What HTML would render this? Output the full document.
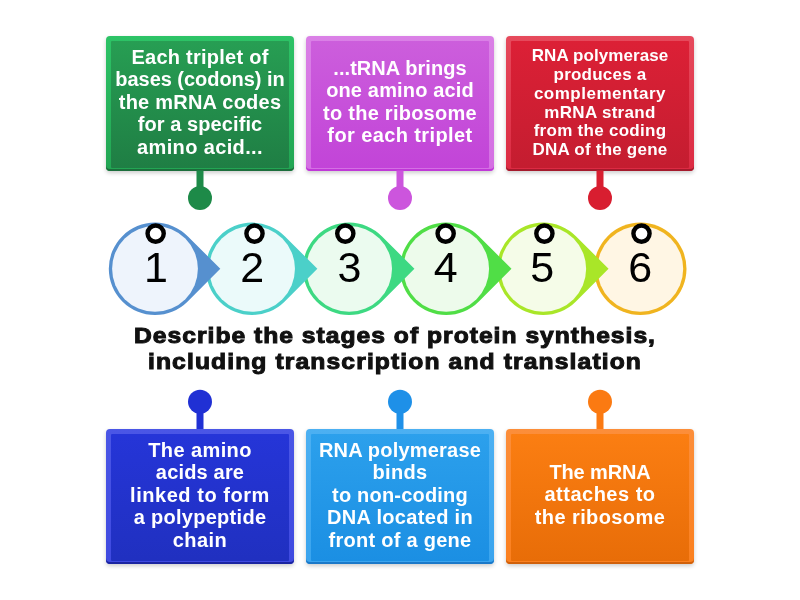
<!DOCTYPE html>
<html><head><meta charset="utf-8">
<style>
html,body{margin:0;padding:0;background:#fff;}
body{width:800px;height:600px;position:relative;overflow:hidden;font-family:"Liberation Sans",sans-serif;}
.box{position:absolute;width:188px;border-radius:4px;}
.box .in{position:absolute;left:5px;right:5px;top:5px;bottom:3px;border-radius:1px;}
.box .ln{will-change:transform;position:absolute;left:0;right:0;line-height:1;text-align:center;color:#fff;font-weight:bold;white-space:nowrap;}
svg{position:absolute;left:0;top:0;}
.title{will-change:transform;position:absolute;left:-5px;width:800px;text-align:center;font-weight:bold;color:#111;font-size:22px;letter-spacing:0.9px;-webkit-text-stroke:1px #111;transform:scaleX(1.12);line-height:1;}
</style></head><body>
<div class="box" style="left:106px;top:36px;height:134.5px;background:linear-gradient(#2dc366,#22a553);box-shadow:inset 0 -2px 0 #1c6e3c,0 2px 4px rgba(0,0,0,0.2);"><div class="in" style="background:linear-gradient(#279e53,#1f7e44);"></div><div class="ln" style="top:10.82px;font-size:20px;letter-spacing:0.250px;">Each triplet of</div><div class="ln" style="top:33.32px;font-size:20px;letter-spacing:-0.037px;">bases (codons) in</div><div class="ln" style="top:55.82px;font-size:20px;letter-spacing:0.231px;">the mRNA codes</div><div class="ln" style="top:78.32px;font-size:20px;letter-spacing:0.077px;">for a specific</div><div class="ln" style="top:100.82px;font-size:20px;letter-spacing:0.367px;">amino acid...</div></div>
<div class="box" style="left:306px;top:36px;height:134.5px;background:linear-gradient(#da80e6,#d46fe3);box-shadow:inset 0 -2px 0 #c038d8,0 2px 4px rgba(0,0,0,0.2);"><div class="in" style="background:linear-gradient(#cc5edc,#c244d8);"></div><div class="ln" style="top:21.57px;font-size:20px;letter-spacing:0.054px;">...tRNA brings</div><div class="ln" style="top:44.07px;font-size:20px;letter-spacing:0.154px;">one amino acid</div><div class="ln" style="top:66.57px;font-size:20px;letter-spacing:0.250px;">to the ribosome</div><div class="ln" style="top:89.07px;font-size:20px;letter-spacing:0.400px;">for each triplet</div></div>
<div class="box" style="left:506px;top:36px;height:134.5px;background:linear-gradient(#e64a5c,#dc2a42);box-shadow:inset 0 -2px 0 #a51a2c,0 2px 4px rgba(0,0,0,0.2);"><div class="in" style="background:linear-gradient(#dc2036,#c41d30);"></div><div class="ln" style="top:11.11px;font-size:17px;letter-spacing:0.077px;">RNA polymerase</div><div class="ln" style="top:29.93px;font-size:17px;letter-spacing:0.222px;">produces a</div><div class="ln" style="top:48.75px;font-size:17px;letter-spacing:0.500px;">complementary</div><div class="ln" style="top:67.57px;font-size:17px;letter-spacing:0.300px;">mRNA strand</div><div class="ln" style="top:86.39px;font-size:17px;letter-spacing:0.286px;">from the coding</div><div class="ln" style="top:105.21px;font-size:17px;letter-spacing:0.214px;">DNA of the gene</div></div>
<div class="box" style="left:106px;top:429px;height:134.5px;background:linear-gradient(#4a56e6,#3f4ae0);box-shadow:inset 0 -2px 0 #1a24a0,0 2px 4px rgba(0,0,0,0.2);"><div class="in" style="background:linear-gradient(#2535d8,#2030c0);"></div><div class="ln" style="top:10.77px;font-size:20px;letter-spacing:0.412px;">The amino</div><div class="ln" style="top:33.22px;font-size:20px;letter-spacing:0.175px;">acids are</div><div class="ln" style="top:55.67px;font-size:20px;letter-spacing:0.546px;">linked to form</div><div class="ln" style="top:78.12px;font-size:20px;letter-spacing:0.292px;">a polypeptide</div><div class="ln" style="top:100.57px;font-size:20px;letter-spacing:0.450px;">chain</div></div>
<div class="box" style="left:306px;top:429px;height:134.5px;background:linear-gradient(#4cb0f2,#3aa4ee);box-shadow:inset 0 -2px 0 #1a78c8,0 2px 4px rgba(0,0,0,0.2);"><div class="in" style="background:linear-gradient(#2ca0ec,#1b8fe3);"></div><div class="ln" style="top:10.77px;font-size:20px;letter-spacing:0.208px;">RNA polymerase</div><div class="ln" style="top:33.22px;font-size:20px;letter-spacing:0.300px;">binds</div><div class="ln" style="top:55.67px;font-size:20px;letter-spacing:0.192px;">to non-coding</div><div class="ln" style="top:78.12px;font-size:20px;letter-spacing:0.315px;">DNA located in</div><div class="ln" style="top:100.57px;font-size:20px;letter-spacing:0.271px;">front of a gene</div></div>
<div class="box" style="left:506px;top:429px;height:134.5px;background:linear-gradient(#fc8e3a,#fb801f);box-shadow:inset 0 -2px 0 #d0600a,0 2px 4px rgba(0,0,0,0.2);"><div class="in" style="background:linear-gradient(#fb7e12,#e86d08);"></div><div class="ln" style="top:32.67px;font-size:20px;letter-spacing:-0.129px;">The mRNA</div><div class="ln" style="top:55.17px;font-size:20px;letter-spacing:0.500px;">attaches to</div><div class="ln" style="top:77.67px;font-size:20px;letter-spacing:0.400px;">the ribosome</div></div>
<svg width="800" height="600" viewBox="0 0 800 600">
<rect x="196.5" y="170.5" width="7" height="19" fill="#1d8a48"/><circle cx="200" cy="198" r="12" fill="#1d8a48"/>
<rect x="396.5" y="170.5" width="7" height="19" fill="#cc55dd"/><circle cx="400" cy="198" r="12" fill="#cc55dd"/>
<rect x="596.5" y="170.5" width="7" height="19" fill="#d81e30"/><circle cx="600" cy="198" r="12" fill="#d81e30"/>
<rect x="196.5" y="410" width="7" height="19" fill="#2030d4"/><circle cx="200" cy="401.7" r="12" fill="#2030d4"/>
<rect x="396.5" y="410" width="7" height="19" fill="#1e90e8"/><circle cx="400" cy="401.7" r="12" fill="#1e90e8"/>
<rect x="596.5" y="410" width="7" height="19" fill="#fb7a12"/><circle cx="600" cy="401.7" r="12" fill="#fb7a12"/>
<circle cx="640.30" cy="268.8" r="46.2" fill="#f0b41f"/>
<circle cx="640.30" cy="268.8" r="42.900000000000006" fill="#fff6e4"/>
<circle cx="641.50" cy="233.6" r="8.1" fill="#fff" stroke="#000" stroke-width="4.4"/>
<text x="640.25" y="282.1" text-anchor="middle" font-size="43" font-family="Liberation Sans" fill="#000">6</text>
<path d="M608.54 268.8 L575.93 236.15 A46.2 46.2 0 1 0 575.93 301.45 Z" fill="#a9e628"/>
<circle cx="543.24" cy="268.8" r="42.900000000000006" fill="#f5fce8"/>
<circle cx="544.40" cy="233.6" r="8.1" fill="#fff" stroke="#000" stroke-width="4.4"/>
<text x="542.30" y="282.1" text-anchor="middle" font-size="43" font-family="Liberation Sans" fill="#000">5</text>
<path d="M511.48 268.8 L478.87 236.15 A46.2 46.2 0 1 0 478.87 301.45 Z" fill="#50de46"/>
<circle cx="446.18" cy="268.8" r="42.900000000000006" fill="#edfbeb"/>
<circle cx="445.65" cy="233.6" r="8.1" fill="#fff" stroke="#000" stroke-width="4.4"/>
<text x="445.80" y="282.1" text-anchor="middle" font-size="43" font-family="Liberation Sans" fill="#000">4</text>
<path d="M414.42 268.8 L381.81 236.15 A46.2 46.2 0 1 0 381.81 301.45 Z" fill="#3dd982"/>
<circle cx="349.12" cy="268.8" r="42.900000000000006" fill="#ebfbef"/>
<circle cx="345.30" cy="233.6" r="8.1" fill="#fff" stroke="#000" stroke-width="4.4"/>
<text x="349.50" y="282.1" text-anchor="middle" font-size="43" font-family="Liberation Sans" fill="#000">3</text>
<path d="M317.36 268.8 L284.75 236.15 A46.2 46.2 0 1 0 284.75 301.45 Z" fill="#4bd0c9"/>
<circle cx="252.06" cy="268.8" r="42.900000000000006" fill="#ebfafa"/>
<circle cx="254.50" cy="233.6" r="8.1" fill="#fff" stroke="#000" stroke-width="4.4"/>
<text x="252.30" y="282.1" text-anchor="middle" font-size="43" font-family="Liberation Sans" fill="#000">2</text>
<path d="M220.30 268.8 L187.69 236.15 A46.2 46.2 0 1 0 187.69 301.45 Z" fill="#5690cf"/>
<circle cx="155.00" cy="268.8" r="42.900000000000006" fill="#eef4fc"/>
<circle cx="155.65" cy="233.6" r="8.1" fill="#fff" stroke="#000" stroke-width="4.4"/>
<text x="156.00" y="282.1" text-anchor="middle" font-size="43" font-family="Liberation Sans" fill="#000">1</text>
</svg>
<div class="title" style="top:324.58px;">Describe the stages of protein synthesis,</div>
<div class="title" style="top:350.88px;letter-spacing:1.0px;">including transcription and translation</div>
</body></html>
